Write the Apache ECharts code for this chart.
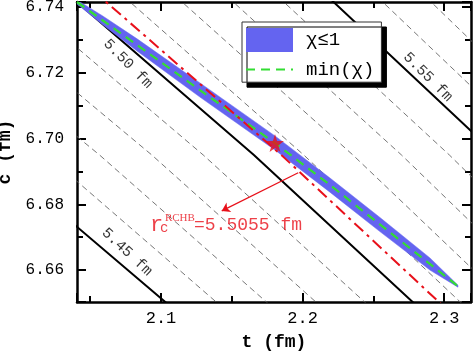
<!DOCTYPE html>
<html><head><meta charset="utf-8">
<script src="https://cdn.jsdelivr.net/npm/echarts@6/dist/echarts.min.js"></script>
<style>html,body{margin:0;padding:0;background:#fff}#c{width:474px;height:356px}</style>
</head><body><div id="c"></div>
<script>
// ---------- data ----------
// constant-radius contour lines: radius (fm) and t values at three c levels
const contourR = [5.45, 5.46, 5.47, 5.48, 5.49, 5.50, 5.51, 5.52, 5.53, 5.54, 5.55, 5.56, 5.57];
const contourC = [6.745, 6.695, 6.645];
const contourT = [
  [1.8334, 1.9811, 2.1175],
  [1.8745, 2.0192, 2.1532],
  [1.9148, 2.0566, 2.1884],
  [1.9543, 2.0935, 2.2231],
  [1.9932, 2.1298, 2.2573],
  [2.0313, 2.1656, 2.2910],
  [2.0689, 2.2008, 2.3244],
  [2.1058, 2.2355, 2.3573],
  [2.1421, 2.2698, 2.3898],
  [2.1779, 2.3036, 2.4220],
  [2.2132, 2.3370, 2.4538],
  [2.2480, 2.3700, 2.4852],
  [2.2823, 2.4026, 2.5163]
];
const solidR = [5.45, 5.50, 5.55];
const labelledR = ['5.50 fm', '5.55 fm', '5.45 fm'];
const labelT = [2.0767, 2.2885, 2.0760];
const labelC = [6.7227, 6.7187, 6.6655];
// RCHB radius contour (red dash-dot), t at contourC levels
const rchbT = [2.0520, 2.1850, 2.3094];
// chi <= 1 band
const bandT     = [2.0407, 2.0591, 2.0831, 2.1275, 2.1805, 2.2193, 2.2546, 2.2899, 2.3097];
const bandUpper = [6.7421, 6.7372, 6.7303, 6.7169, 6.7008, 6.6880, 6.6760, 6.6637, 6.6554];
const bandLower = [6.7409, 6.7345, 6.7266, 6.7126, 6.6965, 6.6837, 6.6717, 6.6600, 6.6548];
// min(chi) line
const minChiT = [2.0407, 2.1275, 2.1805, 2.2193, 2.3097];
const minChiC = [6.7415, 6.7147, 6.6986, 6.6859, 6.6551];
// star and arrow
const starT = 2.1805, starC = 6.6986;
const arrowT = [2.1969, 2.1429];
const arrowC = [6.6896, 6.6780];
// axes
const xTickLabels = ['2.1', '2.2', '2.3'];
const yTickLabels = ['6.66', '6.68', '6.70', '6.72', '6.74'];
const xRange = [2.0407, 2.3189];
const yRange = [6.6503, 6.7415];
const annotText = ['r', 'c', 'RCHB', '=5.5055 fm'];
const annotT = [2.0922, 2.0993, 2.1028, 2.1233];
const annotC = [6.6737, 6.6728, 6.6757, 6.6737];

// ---------- chart ----------
const MONO = 'Liberation Mono';
const RED = '#e8101a';
const BLUE = '#6464f0';
const GREEN = '#33dd33';

function fmt(list) {
  return function (v) {
    const m = list.find(s => Math.abs(parseFloat(s) - v) < 1e-6);
    return m || '';
  };
}
function axisCommon(range, step) {
  return {
    type: 'value', min: range[0], max: range[1],
    minInterval: step, maxInterval: step,
    axisLine: { show: true, onZero: false, lineStyle: { color: '#000', width: 2.5 } },
    axisTick: { show: true, inside: true, length: 9, lineStyle: { color: '#000', width: 2 } },
    minorTick: { show: true, splitNumber: 2, length: 6, lineStyle: { color: '#000', width: 2 } },
    splitLine: { show: false }, minorSplitLine: { show: false }
  };
}

const series = [];
contourR.forEach((r, i) => {
  const solid = solidR.some(s => Math.abs(s - r) < 1e-9);
  series.push({
    type: 'line', silent: true, symbol: 'none', clip: true, z: 1,
    data: contourC.map((c, j) => [contourT[i][j], c]),
    lineStyle: solid ? { color: '#000', width: 2, type: 'solid' }
                     : { color: '#666', width: 0.9, type: [6, 4] }
  });
});
series.push({
  name: 'χ≤1', type: 'custom', z: 2, clip: true, silent: true,
  itemStyle: { color: BLUE },
  data: [[bandT[0], bandUpper[0]]],
  renderItem: function (params, api) {
    const pts = [];
    for (let i = 0; i < bandT.length; i++) pts.push(api.coord([bandT[i], bandUpper[i]]));
    for (let i = bandT.length - 1; i >= 0; i--) pts.push(api.coord([bandT[i], bandLower[i]]));
    return { type: 'polygon', shape: { points: pts }, style: { fill: BLUE, stroke: BLUE, lineWidth: 0.5 } };
  }
});
series.push({
  name: 'min(χ)', type: 'line', z: 3, symbol: 'none', silent: true, clip: true,
  data: minChiT.map((t, i) => [t, minChiC[i]]),
  lineStyle: { color: GREEN, width: 2.2, type: [9, 6] },
  itemStyle: { color: GREEN }
});
series.push({
  type: 'line', z: 4, symbol: 'none', silent: true, clip: true,
  data: rchbT.map((t, i) => [t, contourC[i]]),
  lineStyle: { color: RED, width: 2, type: [12, 5, 3, 5] }
});
series.push({
  type: 'scatter', z: 5, silent: true,
  symbol: 'path://M50,0 L61,35 L98,35 L68,57 L79,91 L50,70 L21,91 L32,57 L2,35 L39,35 Z',
  symbolSize: 18, itemStyle: { color: RED },
  data: [[starT, starC]],
  markLine: {
    silent: true, animation: false, symbol: ['none', 'arrow'], symbolSize: 8,
    lineStyle: { color: RED, width: 1.2, type: 'solid' }, label: { show: false },
    emphasis: { disabled: true },
    data: [[{ coord: [arrowT[0], arrowC[0]] }, { coord: [arrowT[1], arrowC[1]] }]]
  }
});
const labelData = [];
labelledR.forEach((txt, i) => {
  labelData.push({
    value: [labelT[i], labelC[i]],
    label: { show: true, position: 'inside', formatter: txt, rotate: i === 2 ? -43 : -45,
      align: 'center', verticalAlign: 'middle', fontFamily: MONO, fontSize: 15, color: '#000' }
  });
});
const annotStyle = [
  { fontFamily: MONO, fontSize: 22 },
  { fontFamily: MONO, fontSize: 14 },
  { fontFamily: 'Liberation Serif', fontSize: 11 },
  { fontFamily: MONO, fontSize: 18 }
];
annotText.forEach((txt, i) => {
  labelData.push({
    value: [annotT[i], annotC[i]],
    label: Object.assign({ show: true, position: 'inside', formatter: txt, align: 'left',
      verticalAlign: 'middle', color: RED }, annotStyle[i])
  });
});
series.push({
  type: 'scatter', z: 6, silent: true, symbolSize: 1,
  itemStyle: { color: 'rgba(0,0,0,0)' },
  data: labelData
});

const option = {
  animation: false,
  backgroundColor: '#fff',
  grid: { left: 77, right: 3, top: 2, bottom: 54, containLabel: false, outerBoundsMode: 'none' },
  legend: {
    left: 242, top: 22, orient: 'vertical', selectedMode: false,
    padding: [6, 7, 3, 3], itemGap: 8, itemWidth: 47, itemHeight: 24,
    backgroundColor: '#fff', borderColor: '#333', borderWidth: 1,
    shadowColor: '#000', shadowBlur: 0, shadowOffsetX: 5, shadowOffsetY: 5,
    textStyle: { fontFamily: MONO, fontSize: 19, color: '#000', padding: [0, 0, 0, 8] },
    data: [
      { name: 'χ≤1', icon: 'rect' },
      { name: 'min(χ)', itemStyle: { color: 'rgba(0,0,0,0)', opacity: 0, borderWidth: 0 } }
    ]
  },
  xAxis: [
    Object.assign(axisCommon(xRange, 0.1), {
      position: 'bottom', name: 't (fm)', nameLocation: 'middle', nameGap: 31,
      nameTextStyle: { fontFamily: MONO, fontSize: 18, fontWeight: 'bold', color: '#000' },
      axisLabel: { show: true, margin: 8, fontFamily: MONO, fontSize: 17, color: '#000', formatter: fmt(xTickLabels) }
    }),
    Object.assign(axisCommon(xRange, 0.1), { position: 'top', axisLabel: { show: false } })
  ],
  yAxis: [
    Object.assign(axisCommon(yRange, 0.02), {
      position: 'left', name: 'c (fm)', nameLocation: 'middle', nameGap: 52,
      nameTextStyle: { fontFamily: MONO, fontSize: 18, fontWeight: 'bold', color: '#000' },
      axisLabel: { show: true, margin: 13, fontFamily: MONO, fontSize: 16, color: '#000', formatter: fmt(yTickLabels) }
    }),
    Object.assign(axisCommon(yRange, 0.02), { position: 'right', axisLabel: { show: false } })
  ],
  series: series
};
const chart = echarts.init(document.getElementById('c'), null, { renderer: 'canvas' });
chart.setOption(option);
</script>
</body></html>
